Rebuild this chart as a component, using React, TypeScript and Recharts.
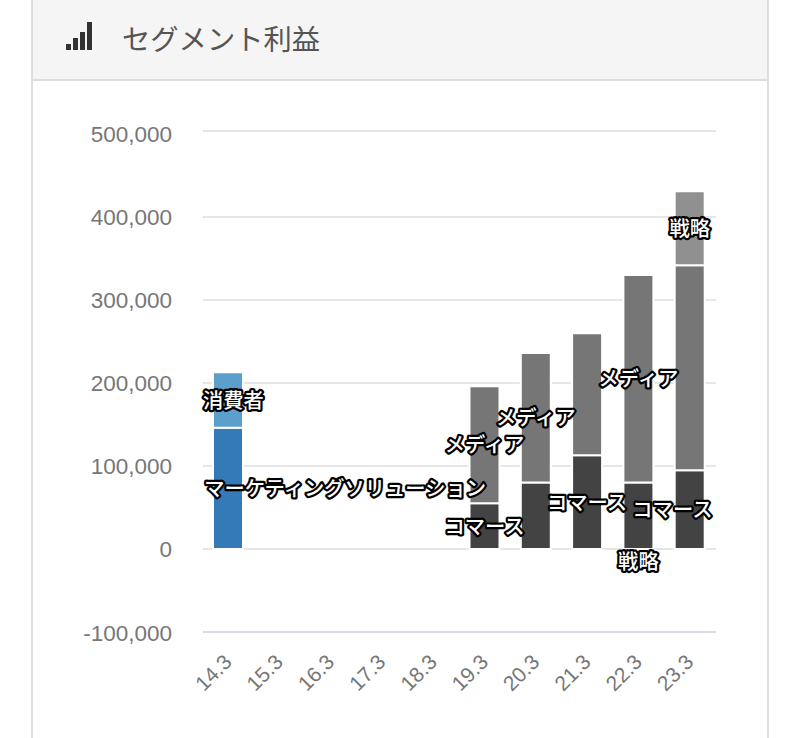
import { BarChart, Bar, XAxis, YAxis, CartesianGrid, LabelList } from "recharts";

const periods = ["14.3", "15.3", "16.3", "17.3", "18.3", "19.3", "20.3", "21.3", "22.3", "23.3"];
const yTicks = [-100000, 0, 100000, 200000, 300000, 400000, 500000];

const marketing = [146000, 0, 0, 0, 0, 0, 0, 0, 0, 0];
const consumer = [67000, 0, 0, 0, 0, 0, 0, 0, 0, 0];
const commerce = [0, 0, 0, 0, 0, 55000, 80000, 113000, 80000, 95000];
const media = [0, 0, 0, 0, 0, 141000, 156000, 147000, 250000, 247000];
const strategy = [0, 0, 0, 0, 0, 0, 0, 0, -2000, 89000];

// the original hides labels that collide, so only these ones get drawn
const marketingLabels = ["マーケティングソリューション", "", "", "", "", "", "", "", "", ""];
const consumerLabels = ["消費者", "", "", "", "", "", "", "", "", ""];
const commerceLabels = ["", "", "", "", "", "コマース", "", "コマース", "", "コマース"];
const mediaLabels = ["", "", "", "", "", "メディア", "メディア", "", "メディア", ""];
const strategyLabels = ["", "", "", "", "", "", "", "", "戦略", "戦略"];

const data = periods.map((period, i) => ({
  period,
  marketing: marketing[i],
  consumer: consumer[i],
  commerce: commerce[i],
  media: media[i],
  strategy: strategy[i],
  marketingLabel: marketingLabels[i],
  consumerLabel: consumerLabels[i],
  commerceLabel: commerceLabels[i],
  mediaLabel: mediaLabels[i],
  strategyLabel: strategyLabels[i],
}));

const W = 800;
const H = 738;
const PLOT_LEFT = 203;
const PLOT_RIGHT = 716;
const LABEL_SIZE = 20.3;
const Y_MIN = -100000;
const Y_MAX = 503600;

const tickFont = "'Liberation Sans', Arial, sans-serif";
const labelFont = "'Noto Sans CJK JP', sans-serif";

function formatTick(v: number) {
  return v.toLocaleString("en-US");
}

// keeps the label inside the plot, and drops it under the bar when the segment is too thin
function SegmentLabel(props: any) {
  const { x, y, width, height, value } = props;
  if (!value) return null;
  const half = (String(value).length * LABEL_SIZE) / 2;
  const cx = Math.min(Math.max(x + width / 2, PLOT_LEFT + half), PLOT_RIGHT - 3 - half);
  const thin = Math.abs(height) < 6;
  const cy = y + height / 2 + (thin ? 10 : -1.5);
  return (
    <text
      x={cx}
      y={cy}
      textAnchor="middle"
      dominantBaseline="central"
      fontFamily={labelFont}
      fontSize={LABEL_SIZE}
      fontWeight={500}
      fill="#ffffff"
      stroke="#000000"
      strokeWidth={4.5}
      paintOrder="stroke"
      strokeLinejoin="round"
    >
      {value}
    </text>
  );
}

function XTick({ x, y, payload }: any) {
  return (
    <text
      x={x}
      y={y + 18}
      textAnchor="end"
      dominantBaseline="central"
      fontFamily={tickFont}
      fontSize={21}
      fill="#777777"
      transform={`rotate(-45 ${x} ${y + 18})`}
    >
      {payload.value}
    </text>
  );
}

function YTick({ x, y, payload }: any) {
  return (
    <text
      x={x}
      y={y + 1}
      textAnchor="end"
      dominantBaseline="central"
      fontFamily={tickFont}
      fontSize={22.5}
      fill="#777777"
    >
      {formatTick(payload.value)}
    </text>
  );
}

function SignalIcon() {
  return (
    <svg width={28} height={30} style={{ position: "absolute", left: 65, top: 21 }}>
      <rect x={1} y={23} width={5} height={6} fill="#333333" />
      <rect x={8} y={17} width={5} height={12} fill="#333333" />
      <rect x={15} y={11} width={5} height={18} fill="#333333" />
      <rect x={22} y={1} width={5} height={28} fill="#333333" />
    </svg>
  );
}

// the top grid line sits at the plot edge, a little above the 500,000 label
function gridLines({ offset }: any) {
  const below = yTicks
    .slice(0, -1)
    .map((t) => offset.top + (offset.height * (Y_MAX - t)) / (Y_MAX - Y_MIN));
  return [offset.top, ...below];
}

export default function App() {
  return (
    <div style={{ position: "absolute", left: 0, top: 0, width: W, height: H, background: "#fff", overflow: "hidden" }}>
      <div
        style={{
          position: "absolute",
          left: 31,
          top: -2,
          width: 734,
          height: 760,
          border: "2px solid #dddddd",
        }}
      />
      <div
        style={{
          position: "absolute",
          left: 33,
          top: 0,
          width: 734,
          height: 79,
          background: "#f5f5f5",
          borderBottom: "2px solid #dddddd",
        }}
      />
      <SignalIcon />
      <div
        style={{
          position: "absolute",
          left: 122,
          top: 18,
          fontFamily: labelFont,
          fontSize: 28.3,
          lineHeight: "40px",
          color: "#555555",
        }}
      >
        セグメント利益
      </div>
      <div style={{ position: "absolute", left: 0, top: 0 }}>
        <BarChart
          width={W}
          height={H}
          data={data}
          stackOffset="sign"
          barSize={30}
          margin={{ top: 131, right: 84, bottom: 0, left: 0 }}
        >
          <CartesianGrid
            horizontal
            vertical={false}
            stroke="#e6e6e6"
            strokeWidth={2}
            horizontalCoordinatesGenerator={gridLines}
          />
          <XAxis
            dataKey="period"
            axisLine={{ stroke: "#d8dbe6", strokeWidth: 2 }}
            tickLine={false}
            interval={0}
            tick={<XTick />}
            height={106}
            padding={{ left: -1, right: 1 }}
          />
          <YAxis
            type="number"
            domain={[Y_MIN, Y_MAX]}
            ticks={yTicks}
            width={203}
            axisLine={false}
            tickLine={false}
            tickMargin={25}
            tick={<YTick />}
          />
          <Bar dataKey="marketing" stackId="a" fill="#337ab7" stroke="#ffffff" strokeWidth={2} isAnimationActive={false}>
            <LabelList dataKey="marketingLabel" content={SegmentLabel} />
          </Bar>
          <Bar dataKey="consumer" stackId="a" fill="#5c9fcc" stroke="#ffffff" strokeWidth={2} isAnimationActive={false}>
            <LabelList dataKey="consumerLabel" content={SegmentLabel} />
          </Bar>
          <Bar dataKey="commerce" stackId="a" fill="#434343" stroke="#ffffff" strokeWidth={2} isAnimationActive={false}>
            <LabelList dataKey="commerceLabel" content={SegmentLabel} />
          </Bar>
          <Bar dataKey="media" stackId="a" fill="#767676" stroke="#ffffff" strokeWidth={2} isAnimationActive={false}>
            <LabelList dataKey="mediaLabel" content={SegmentLabel} />
          </Bar>
          <Bar dataKey="strategy" stackId="a" fill="#909090" stroke="#ffffff" strokeWidth={2} isAnimationActive={false}>
            <LabelList dataKey="strategyLabel" content={SegmentLabel} />
          </Bar>
        </BarChart>
      </div>
    </div>
  );
}
